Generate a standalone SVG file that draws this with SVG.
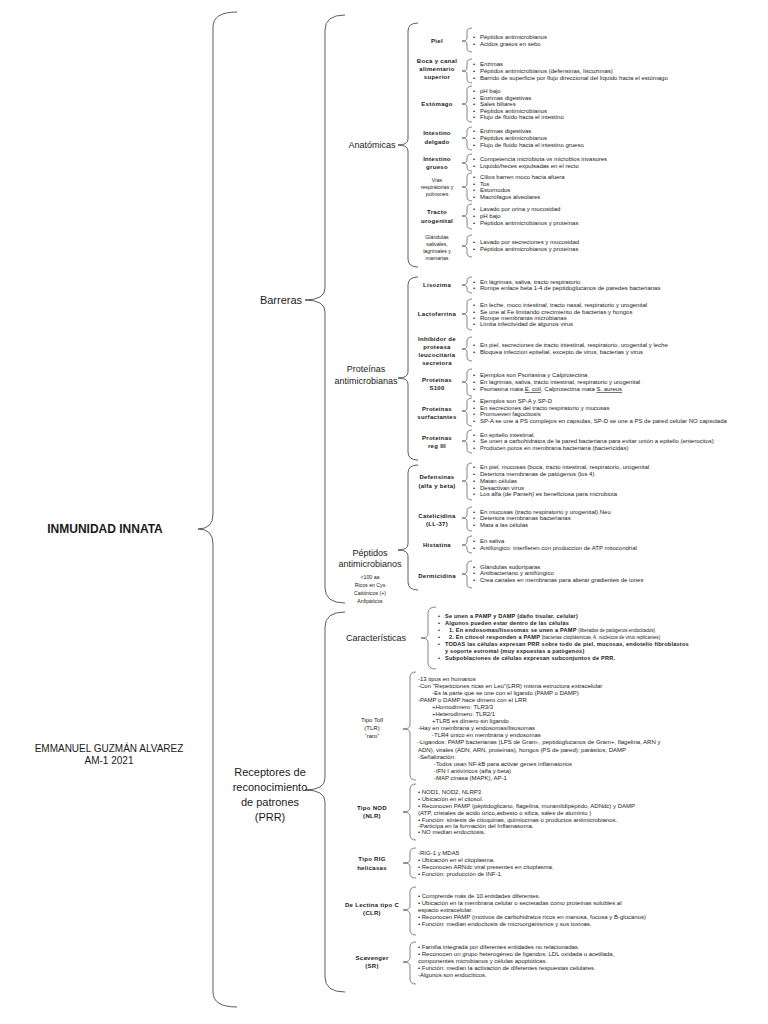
<svg xmlns="http://www.w3.org/2000/svg" width="768" height="1024" viewBox="0 0 768 1024">
<style>
text{font-family:"Liberation Sans",Arial,sans-serif;fill:#1a1a1a}
.t{font-size:6px}
.s{font-size:4.6px}
.lb{font-size:6px;font-weight:bold;text-anchor:middle;letter-spacing:0.3px}
.ln{font-size:5.2px;text-anchor:middle}
.m{font-size:9px;text-anchor:middle}
.L{font-size:11px;text-anchor:middle}
.c{font-size:5.6px;font-weight:bold;letter-spacing:0.2px}
.br{fill:none;stroke:#333;stroke-width:0.8}
.bs{fill:none;stroke:#333;stroke-width:0.6}
</style>
<rect width="768" height="1024" fill="#fff"/>

<g id="connectors">
<path class="br" d="M237,12 Q213,12 213,27 L213,514 Q213,529 198,529 Q213,529 213,544 L213,992 Q213,1007 237,1007"/>
<path class="br" d="M345,15 Q325,15 325,30 L325,288 Q325,300 305,300 Q325,300 325,312 L325,588 Q325,603 345,603"/>
<path class="br" d="M345,612 Q325,612 325,627 L325,778 Q325,790 305,790 Q325,790 325,802 L325,977 Q325,992 345,992"/>
<path class="br" d="M418,23 Q408,23 408,31 L408,139 Q408,145 398,145 Q408,145 408,151 L408,259 Q408,267 418,267"/>
<path class="br" d="M418,277 Q408,277 408,285 L408,372 Q408,378 398,378 Q408,378 408,384 L408,452 Q408,460 418,460"/>
<path class="br" d="M418,465 Q408,465 408,473 L408,544 Q408,550 398,550 Q408,550 408,556 L408,582 Q408,590 418,590"/>
<g class="bs">
<path d="M472,28 Q467,28 467,32 L467,38 Q467,41 462,41 Q467,41 467,44 L467,48 Q467,52 472,52"/>
<path d="M472,59 Q467,59 467,63 L467,68 Q467,71 462,71 Q467,71 467,74 L467,79 Q467,83 472,83"/>
<path d="M472,86 Q467,86 467,90 L467,101 Q467,104 462,104 Q467,104 467,107 L467,118 Q467,122 472,122"/>
<path d="M472,127 Q467,127 467,131 L467,135 Q467,138 462,138 Q467,138 467,141 L467,146 Q467,150 472,150"/>
<path d="M472,154 Q467,154 467,158 L467,160 Q467,163 462,163 Q467,163 467,166 L467,167 Q467,171 472,171"/>
<path d="M472,173 Q467,173 467,177 L467,184 Q467,187 462,187 Q467,187 467,190 L467,197 Q467,201 472,201"/>
<path d="M472,204 Q467,204 467,208 L467,213 Q467,216 462,216 Q467,216 467,219 L467,225 Q467,229 472,229"/>
<path d="M472,235 Q467,235 467,239 L467,243 Q467,246 462,246 Q467,246 467,249 L467,253 Q467,257 472,257"/>
<path d="M472,277 Q467,277 467,281 L467,282 Q467,285 462,285 Q467,285 467,288 L467,289 Q467,293 472,293"/>
<path d="M472,299 Q467,299 467,303 L467,311 Q467,314 462,314 Q467,314 467,317 L467,326 Q467,330 472,330"/>
<path d="M472,337 Q467,337 467,341 L467,346 Q467,349 462,349 Q467,349 467,352 L467,357 Q467,361 472,361"/>
<path d="M472,369 Q467,369 467,373 L467,379 Q467,382 462,382 Q467,382 467,385 L467,392 Q467,396 472,396"/>
<path d="M472,398 Q467,398 467,402 L467,408 Q467,411 462,411 Q467,411 467,414 L467,422 Q467,426 472,426"/>
<path d="M472,430 Q467,430 467,434 L467,438 Q467,441 462,441 Q467,441 467,444 L467,449 Q467,453 472,453"/>
<path d="M472,463 Q467,463 467,467 L467,478 Q467,481 462,481 Q467,481 467,484 L467,496 Q467,500 472,500"/>
<path d="M472,507 Q467,507 467,511 L467,515 Q467,518 462,518 Q467,518 467,521 L467,527 Q467,531 472,531"/>
<path d="M472,536 Q467,536 467,540 L467,542 Q467,545 462,545 Q467,545 467,548 L467,549 Q467,553 472,553"/>
<path d="M472,561 Q467,561 467,565 L467,571 Q467,574 462,574 Q467,574 467,577 L467,584 Q467,588 472,588"/>
<path d="M436,607 Q428,607 428,613 L428,634 Q428,638 421,638 Q428,638 428,642 L428,663 Q428,669 436,669"/>
<path d="M416,672 Q410,672 410,677 L410,725 Q410,729 403,729 Q410,729 410,733 L410,775 Q410,780 416,780"/>
<path d="M416,784 Q410,784 410,789 L410,808 Q410,812 403,812 Q410,812 410,816 L410,835 Q410,840 416,840"/>
<path d="M416,848 Q410,848 410,852 L410,860 Q410,863 403,863 Q410,863 410,866 L410,874 Q410,878 416,878"/>
<path d="M416,887 Q410,887 410,892 L410,906 Q410,910 403,910 Q410,910 410,914 L410,930 Q410,935 416,935"/>
<path d="M416,942 Q410,942 410,947 L410,958 Q410,962 403,962 Q410,962 410,966 L410,979 Q410,984 416,984"/>
</g>
</g>

<g id="root">
<text x="105" y="533" style="font-size:12px;font-weight:bold;text-anchor:middle">INMUNIDAD INNATA</text>
<text x="109" y="752" style="font-size:10px;text-anchor:middle">EMMANUEL GUZMÁN ALVAREZ</text>
<text x="109" y="764" style="font-size:10px;text-anchor:middle">AM-1 2021</text>
</g>

<g id="barreras"><text class="L" x="281" y="304">Barreras</text></g>
<g id="prr"><text class="L" x="270" y="776">Receptores de</text><text class="L" x="270" y="791">reconocimiento</text><text class="L" x="270" y="806">de patrones</text><text class="L" x="270" y="821">(PRR)</text></g>
<g id="anatomicas"><text class="m" x="372" y="148">Anatómicas</text></g>
<g id="proteinas"><text class="m" x="366" y="372">Proteínas</text><text class="m" x="366" y="384">antimicrobianas</text></g>
<g id="peptidos"><text class="m" x="370" y="556">Péptidos</text><text class="m" x="370" y="567">antimicrobianos</text><text class="ln" x="370" y="579">&lt;100 aa</text><text class="ln" x="370" y="587">Ricos en Cys</text><text class="ln" x="370" y="595">Catiónicos (+)</text><text class="ln" x="370" y="603">Anfipáticos</text></g>

<g id="piel"><text class="lb" x="437" y="43">Piel</text>
<text class="t" x="473" y="39">•<tspan x="480">Péptidos antimicrobianos</tspan></text>
<text class="t" x="473" y="46">•<tspan x="480">Acidos grasos en sebo</tspan></text></g>
<g id="boca"><text class="lb" x="437" y="63">Boca y canal</text><text class="lb" x="437" y="71">alimentario</text><text class="lb" x="437" y="79">superior</text>
<text class="t" x="473" y="66">•<tspan x="480">Enzimas</tspan></text>
<text class="t" x="473" y="73">•<tspan x="480">Péptidos antimicrobianos (defensinas, liscozimas)</tspan></text>
<text class="t" x="473" y="80">•<tspan x="480">Barrido de superficie por flujo direccional del líquido hacia el estómago</tspan></text></g>
<g id="estomago"><text class="lb" x="437" y="106">Estómago</text>
<text class="t" x="473" y="93">•<tspan x="480">pH bajo</tspan></text>
<text class="t" x="473" y="100">•<tspan x="480">Enzimas digestivas</tspan></text>
<text class="t" x="473" y="106">•<tspan x="480">Sales biliares</tspan></text>
<text class="t" x="473" y="113">•<tspan x="480">Péptidos antimicrobianos</tspan></text>
<text class="t" x="473" y="119">•<tspan x="480">Flujo de fluido hacia el intestino</tspan></text></g>
<g id="delgado"><text class="lb" x="437" y="135">Intestino</text><text class="lb" x="437" y="144">delgado</text>
<text class="t" x="473" y="133">•<tspan x="480">Enzimas digestivas</tspan></text>
<text class="t" x="473" y="140">•<tspan x="480">Péptidos antimicrobianos</tspan></text>
<text class="t" x="473" y="147">•<tspan x="480">Flujo de fluido hacia el intestino grueso</tspan></text></g>
<g id="grueso"><text class="lb" x="437" y="161">Intestino</text><text class="lb" x="437" y="169">grueso</text>
<text class="t" x="473" y="161">•<tspan x="480">Competencia microbiota vs microbios invasores</tspan></text>
<text class="t" x="473" y="168">•<tspan x="480">Liquido/heces expulsadas en el recto</tspan></text></g>
<g id="vias"><text class="ln" x="437" y="182">Vías</text><text class="ln" x="437" y="189">respiratorias y</text><text class="ln" x="437" y="196">pulmones</text>
<text class="t" x="473" y="179">•<tspan x="480">Cilios barren moco hacia afuera</tspan></text>
<text class="t" x="473" y="186">•<tspan x="480">Tos</tspan></text>
<text class="t" x="473" y="192">•<tspan x="480">Estornudos</tspan></text>
<text class="t" x="473" y="199">•<tspan x="480">Macrófagos alveolares</tspan></text></g>
<g id="tracto"><text class="lb" x="437" y="214">Tracto</text><text class="lb" x="437" y="223">urogenital</text>
<text class="t" x="473" y="211">•<tspan x="480">Lavado por orina y mucosidad</tspan></text>
<text class="t" x="473" y="218">•<tspan x="480">pH bajo</tspan></text>
<text class="t" x="473" y="225">•<tspan x="480">Péptidos antimicrobianos y proteínas</tspan></text></g>
<g id="glandulas"><text class="ln" x="437" y="239">Glándulas</text><text class="ln" x="437" y="246">salivales,</text><text class="ln" x="437" y="253">lagrimales y</text><text class="ln" x="437" y="260">mamarias</text>
<text class="t" x="473" y="244">•<tspan x="480">Lavado por secreciones y mucosidad</tspan></text>
<text class="t" x="473" y="251">•<tspan x="480">Péptidos antimicrobianos y proteínas</tspan></text></g>

<g id="lisozima"><text class="lb" x="437" y="287">Lisozima</text>
<text class="t" x="473" y="284">•<tspan x="480">En lágrimas, saliva, tracto respiratorio</tspan></text>
<text class="t" x="473" y="290">•<tspan x="480">Rompe enlace beta 1-4 de peptidoglucanos de paredes bacterianas</tspan></text></g>
<g id="lactoferrina"><text class="lb" x="437" y="316">Lactoferrina</text>
<text class="t" x="473" y="307">•<tspan x="480">En leche, moco intestinal, tracto nasal, respiratorio y urogenital</tspan></text>
<text class="t" x="473" y="314">•<tspan x="480">Se une al Fe limitando crecimiento de bacterias y hongos</tspan></text>
<text class="t" x="473" y="320">•<tspan x="480">Rompe membranas microbianas</tspan></text>
<text class="t" x="473" y="326">•<tspan x="480">Limita infectividad de algunos virus</tspan></text></g>
<g id="inhibidor"><text class="lb" x="437" y="341">Inhibidor de</text><text class="lb" x="437" y="349">proteasa</text><text class="lb" x="437" y="357">leucocitaria</text><text class="lb" x="437" y="365">secretora</text>
<text class="t" x="473" y="347">•<tspan x="480">En piel, secreciones de tracto intestinal, respiratorio, urogenital y leche</tspan></text>
<text class="t" x="473" y="354">•<tspan x="480">Bloquea infeccion epitelial, excepto de virus, bacterias y virus</tspan></text></g>
<g id="s100"><text class="lb" x="437" y="382">Proteínas</text><text class="lb" x="437" y="390">S100</text>
<text class="t" x="473" y="377">•<tspan x="480">Ejemplos son Psoriasina y Calprotectina</tspan></text>
<text class="t" x="473" y="384">•<tspan x="480">En lagrimas, saliva, tracto intestinal, respiratorio y urogenital</tspan></text>
<text class="t" x="473" y="391">•<tspan x="480">Psoriasina mata <tspan text-decoration="underline">E. coli</tspan>, Calprotectina mata <tspan text-decoration="underline">S. aureus</tspan></tspan></text></g>
<g id="surfactantes"><text class="lb" x="437" y="411">Proteínas</text><text class="lb" x="437" y="419">surfactantes</text>
<text class="t" x="473" y="403">•<tspan x="480">Ejemplos son SP-A y SP-D</tspan></text>
<text class="t" x="473" y="410">•<tspan x="480">En secreciones del tracto respiratorio y mucosas</tspan></text>
<text class="t" x="473" y="416">•<tspan x="480">Promueven fagocitosis</tspan></text>
<text class="t" x="473" y="423">•<tspan x="480">SP-A se une a PS complejos en capsulas, SP-D se une a PS de pared celular NO capsulada</tspan></text></g>
<g id="regiii"><text class="lb" x="437" y="440">Proteínas</text><text class="lb" x="437" y="448">reg III</text>
<text class="t" x="473" y="437">•<tspan x="480">En epitelio intestinal.</tspan></text>
<text class="t" x="473" y="443">•<tspan x="480">Se unen a carbohidratos de la pared bacteriana para evitar unión a epitelio (enterocitos)</tspan></text>
<text class="t" x="473" y="450">•<tspan x="480">Producen poros en membrana bacteriana (bactericidas)</tspan></text></g>

<g id="defensinas"><text class="lb" x="437" y="479">Defensinas</text><text class="lb" x="437" y="488">(alfa y beta)</text>
<text class="t" x="473" y="469">•<tspan x="480">En piel, mucosas (boca, tracto intestinal, respiratorio, urogenital</tspan></text>
<text class="t" x="473" y="476">•<tspan x="480">Deteriora membranas de patógenos (los 4)</tspan></text>
<text class="t" x="473" y="483">•<tspan x="480">Matan células</tspan></text>
<text class="t" x="473" y="490">•<tspan x="480">Desactivan virus</tspan></text>
<text class="t" x="473" y="496">•<tspan x="480">Los alfa (de Panteh) es beneficiosa para microbiota</tspan></text></g>
<g id="catelicidina"><text class="lb" x="437" y="518">Catelicidina</text><text class="lb" x="437" y="526">(LL-37)</text>
<text class="t" x="473" y="514">•<tspan x="480">En mucosas (tracto respiratorio y urogenital).Neu</tspan></text>
<text class="t" x="473" y="520">•<tspan x="480">Deteriora membranas bacterianas</tspan></text>
<text class="t" x="473" y="527">•<tspan x="480">Mata a las células</tspan></text></g>
<g id="histatina"><text class="lb" x="437" y="547">Histatina</text>
<text class="t" x="473" y="543">•<tspan x="480">En saliva</tspan></text>
<text class="t" x="473" y="550">•<tspan x="480">Antifúngico: interfieren con produccion de ATP mitocondrial</tspan></text></g>
<g id="dermicidina"><text class="lb" x="437" y="578">Dermicidina</text>
<text class="t" x="473" y="569">•<tspan x="480">Glándulas sudoríparas</tspan></text>
<text class="t" x="473" y="575">•<tspan x="480">Antibacteriano y antifúngico</tspan></text>
<text class="t" x="473" y="582">•<tspan x="480">Crea canales en membranas para alterar gradientes de iones</tspan></text></g>

<g id="caracteristicas"><text class="m" x="376" y="641">Características</text>
<text class="c" x="438" y="618">•<tspan x="445">Se unen a PAMP y DAMP (daño tisular, celular)</tspan></text>
<text class="c" x="438" y="625">•<tspan x="445">Algunos pueden estar dentro de las células</tspan></text>
<text class="c" x="438" y="632">•<tspan x="449">1. En endosomas/lisosomas se unen a PAMP </tspan><tspan class="s" style="font-weight:normal;letter-spacing:0">(liberados de patógenos endocitados)</tspan></text>
<text class="c" x="438" y="639">•<tspan x="449">2. En citosol responden a PAMP </tspan><tspan class="s" style="font-weight:normal;letter-spacing:0">(bacterias citoplásmicas, A. nucleicos de virus replicantes)</tspan></text>
<text class="c" x="438" y="646">•<tspan x="445">TODAS las células expresan PRR sobre todo de piel, mucosas, endotelio fibroblastos</tspan></text>
<text class="c" x="445" y="653">y soporte estromal (muy expuestas a patógenos)</text>
<text class="c" x="438" y="660">•<tspan x="445">Subpoblaciones de células expresan subconjuntos de PRR.</tspan></text></g>

<g id="tlr"><text class="ln" style="font-size:6px" x="372" y="722">Tipo Toll</text><text class="ln" style="font-size:6px" x="372" y="730">(TLR)</text><text class="ln" style="font-size:6px" x="372" y="738">“raro”</text>
<text class="t" x="418" y="681">-13 tipos en humanos</text>
<text class="t" x="418" y="688">-Con "Repeticiones ricas en Leu"(LRR) misma estructura extracelular</text>
<text class="t" x="432" y="695">-Es la parte que se une con el ligando (PAMP o DAMP)</text>
<text class="t" x="418" y="702">-PAMP o DAMP hace dímero con el LRR</text>
<text class="t" x="432" y="709">+Homodímero: TLR3/3</text>
<text class="t" x="432" y="716">+Heterodímero: TLR2/1</text>
<text class="t" x="432" y="723">+TLR5 es dímero sin ligando</text>
<text class="t" x="418" y="730">-Hay en membrana y endosomas/lisosomas</text>
<text class="t" x="432" y="737">-TLR4 único en membrana y endosomas</text>
<text class="t" x="418" y="744">-Ligandos: PAMP bacterianas (LPS de Gram-, peptidoglucanos de Gram+, flagelina, ARN y</text>
<text class="t" x="418" y="752">ADN), virales (ADN, ARN, proteínas), hongos (PS de pared); parásitos; DAMP</text>
<text class="t" x="418" y="759">-Señalización:</text>
<text class="t" x="434" y="766">-Todos usan NF-kB para activar genes inflamatorios</text>
<text class="t" x="434" y="773">-IFN I antivíricos (alfa y beta)</text>
<text class="t" x="434" y="780">-MAP cinasa (MAPK), AP-1</text></g>
<g id="nod"><text class="lb" x="372" y="810">Tipo NOD</text><text class="lb" x="372" y="818">(NLR)</text>
<text class="t" x="418" y="794">• NOD1, NOD2, NLRP3</text>
<text class="t" x="418" y="801">• Ubicación en el citosol.</text>
<text class="t" x="418" y="808">• Reconocen PAMP (péptidoglicano, flagelina, muramildipéptido, ADNdc) y DAMP</text>
<text class="t" x="418" y="815">(ATP, cristales de acido úrico,asbesto o sílica, sales de aluminio )</text>
<text class="t" x="418" y="822">• Función: síntesis de citoquinas, quimiocinas o productos antimicrobianos.</text>
<text class="t" x="418" y="828">-Participa en la formación del Inflamasoma.</text>
<text class="t" x="418" y="834">• NO median endocitosis.</text></g>
<g id="rig"><text class="lb" x="372" y="861">Tipo RIG</text><text class="lb" x="372" y="870">helicasas</text>
<text class="t" x="418" y="855">-RIG-1 y MDA5</text>
<text class="t" x="418" y="862">• Ubicación en el citoplasma.</text>
<text class="t" x="418" y="869">• Reconocen ARNdc viral presentes en citoplasma.</text>
<text class="t" x="418" y="876">• Función: producción de INF-1.</text></g>
<g id="clr"><text class="lb" x="372" y="907">De Lectina tipo C</text><text class="lb" x="372" y="915">(CLR)</text>
<text class="t" x="418" y="898">• Comprende más de 10 entidades diferentes.</text>
<text class="t" x="418" y="905">• Ubicación en la membrana celular o secretadas como proteínas solubles al</text>
<text class="t" x="418" y="912">espacio extracelular.</text>
<text class="t" x="418" y="919">• Reconocen PAMP (motivos de carbohidratos ricos en manosa, fucosa y B-glucanos)</text>
<text class="t" x="418" y="926">• Función: median endocitosis de microorganismos y sus toxinas.</text></g>
<g id="sr"><text class="lb" x="372" y="960">Scavenger</text><text class="lb" x="372" y="968">(SR)</text>
<text class="t" x="418" y="949">• Familia integrada por diferentes entidades no relacionadas.</text>
<text class="t" x="418" y="956">• Reconocen un grupo heterogéneo de ligandos: LDL oxidada u acetilada,</text>
<text class="t" x="418" y="963">componentes microbianos y células apoptóticas.</text>
<text class="t" x="418" y="970">• Función: median la activación de diferentes respuestas celulares.</text>
<text class="t" x="418" y="977">-Algunos son endocíticos.</text></g>
</svg>
